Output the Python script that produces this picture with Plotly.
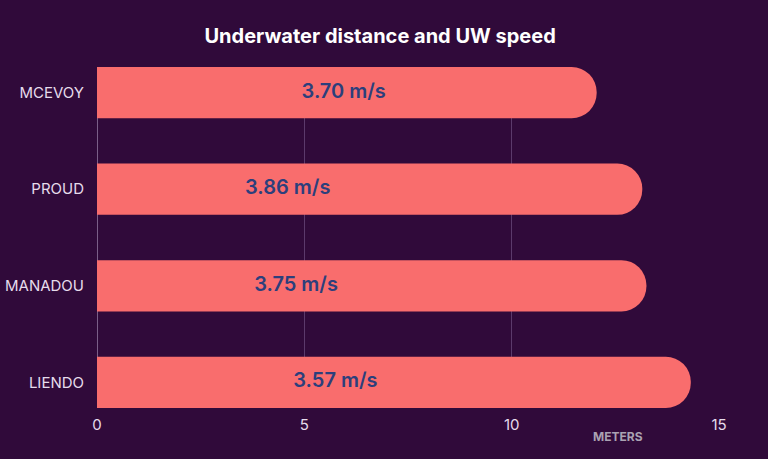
import plotly.graph_objects as go

swimmers = ["MCEVOY", "PROUD", "MANADOU", "LIENDO"]
distance_m = [12.05, 13.15, 13.25, 14.32]
speed_labels = ["3.70 m/s", "3.86 m/s", "3.75 m/s", "3.57 m/s"]
label_x = [5.95, 4.6, 4.8, 5.75]
x_ticks = [0, 5, 10, 15]

BG = "#300a3a"
BAR = "#f96d6d"
TXT = "#2c3f7c"

fig = go.Figure()
fig.add_trace(go.Bar(
    y=swimmers, x=distance_m, orientation="h",
    marker=dict(color=BAR, cornerradius=26, line=dict(width=0)),
    width=0.53, hoverinfo="skip",
))
fig.add_trace(go.Scatter(
    y=swimmers, x=label_x, mode="text", text=speed_labels,
    textfont=dict(family="Inter", size=20, color=TXT, weight=600),
    hoverinfo="skip",
))
fig.update_layout(
    width=768, height=459,
    paper_bgcolor=BG, plot_bgcolor=BG,
    margin=dict(l=97, r=49, t=67, b=51, autoexpand=False),
    showlegend=False,
    title=dict(text="<b>Underwater distance and UW speed</b>", x=0.495, xanchor="center",
               y=0.922, yanchor="middle",
               font=dict(family="Inter", size=20, color="#ffffff")),
    xaxis=dict(range=[0, 15], tickvals=x_ticks, showgrid=True, gridcolor="#5b3a6b",
               gridwidth=1, zeroline=True, zerolinecolor="#7a5f88", zerolinewidth=1,
               tickfont=dict(family="Inter", size=15, color="#e6dcec"),
               ticks="", ticklabelstandoff=6, showline=False, automargin=False),
    yaxis=dict(autorange=False, range=[3.265, -0.265], categoryorder="array",
               categoryarray=swimmers, showgrid=False, zeroline=False,
               tickfont=dict(family="Inter", size=15, color="#e6dcec"),
               ticks="", ticklabelstandoff=12, showline=False, automargin=False),
    annotations=[dict(text="<b>METERS</b>", xref="paper", yref="paper",
                      x=0.838, y=-0.085, xanchor="center", yanchor="middle",
                      showarrow=False,
                      font=dict(family="Inter", size=12, color="#aaa2b2"))],
)
fig.write_html("out.html")
